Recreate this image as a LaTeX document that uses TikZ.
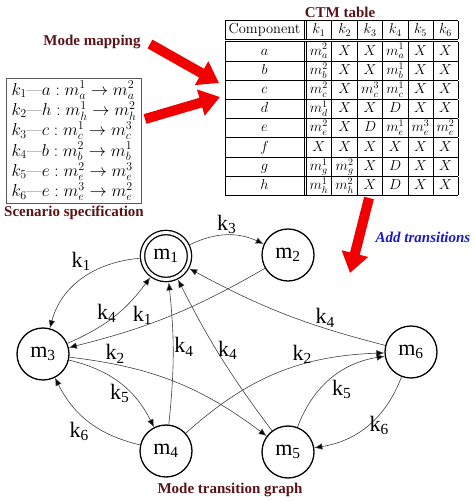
\documentclass[tikz,border=0pt]{standalone}
\usepackage{fontspec}
\usepackage{amsmath}
\usetikzlibrary{arrows,arrows.meta,positioning}
\newfontfamily\tnr{Liberation Serif}
\definecolor{titlered}{RGB}{90,20,25}
\definecolor{addblue}{RGB}{25,25,205}
\definecolor{bigred}{RGB}{240,0,0}
\newcommand{\md}[1]{m\textsubscript{#1}}
\newcommand{\kk}[1]{k\textsubscript{#1}}

\begin{document}
\begin{tikzpicture}[x=1pt,y=1pt,->,>={Latex[length=8pt,width=6.5pt]}]
  \tikzstyle{title}=[font=\tnr\bfseries\fontsize{15}{18}\selectfont,text=titlered]
  \tikzstyle{mode}=[circle,draw,line width=1.3pt,minimum size=52pt,inner sep=0pt,font=\tnr\fontsize{22}{24}\selectfont]
  \tikzstyle{start}=[mode,double,double distance=3pt,minimum size=47pt,outer sep=3pt]
  \tikzstyle{lbl}=[font=\tnr\fontsize{22}{24}\selectfont,inner sep=1pt]
  \tikzstyle{tr}=[draw=black!75,line width=0.6pt]
  \tikzstyle{bigarrow}=[-{Triangle[length=20pt,width=26pt]},line width=10pt,bigred]
  \useasboundingbox (0,0) rectangle (474,502);

  % CTM table
  \node[title] (ctmtitle) at (340,490) {CTM table};
  \node[inner sep=0pt,font=\fontsize{14.5}{18.4}\selectfont] (ctm) at (341.5,394) {%
    \setlength{\tabcolsep}{3.6pt}\setlength{\arrayrulewidth}{0.8pt}%
    \begin{tabular}{|c||c|c|c|c|c|c|}
      \hline
      Component & $k_1$ & $k_2$ & $k_3$ & $k_4$ & $k_5$ & $k_6$ \\
      \hline\hline
      $a$ & $m_a^2$ & $X$ & $X$ & $m_a^1$ & $X$ & $X$ \\ \hline
      $b$ & $m_b^2$ & $X$ & $X$ & $m_b^1$ & $X$ & $X$ \\ \hline
      $c$ & $m_c^2$ & $X$ & $m_c^3$ & $m_c^1$ & $X$ & $X$ \\ \hline
      $d$ & $m_d^1$ & $X$ & $X$ & $D$ & $X$ & $X$ \\ \hline
      $e$ & $m_e^2$ & $X$ & $D$ & $m_e^1$ & $m_e^3$ & $m_e^2$ \\ \hline
      $f$ & $X$ & $X$ & $X$ & $X$ & $X$ & $X$ \\ \hline
      $g$ & $m_g^1$ & $m_g^2$ & $X$ & $D$ & $X$ & $X$ \\ \hline
      $h$ & $m_h^1$ & $m_h^2$ & $X$ & $D$ & $X$ & $X$ \\ \hline
    \end{tabular}};

  % scenario
  \node[title] (maptitle) at (92,460) {Mode mapping};
  \node[draw=black!65,line width=1pt,align=left,inner xsep=5pt,inner ysep=3pt,
        font=\fontsize{16.5}{20.3}\selectfont] (scen) at (74,361) {%
    $k_1$---$a : m_a^1 \rightarrow m_a^2$\\
    $k_2$---$h : m_h^1 \rightarrow m_h^2$\\
    $k_3$---$c : m_c^1 \rightarrow m_c^3$\\
    $k_4$---$b : m_b^2 \rightarrow m_b^1$\\
    $k_5$---$e : m_e^2 \rightarrow m_e^3$\\
    $k_6$---$e : m_e^3 \rightarrow m_e^2$};
  \node[title] (scentitle) at (74,289) {Scenario specification};

  % big red arrows
  \coordinate (mapA) at (150,458);
  \coordinate (mapB) at (219,419);
  \coordinate (scenA) at (145,383);
  \coordinate (scenB) at (220,405);
  \coordinate (ctmA) at (369,304);
  \coordinate (ctmB) at (350,229);
  \draw[bigarrow] (mapA) -- (mapB);
  \draw[bigarrow] (scenA) -- (scenB);
  \draw[bigarrow] (ctmA) -- (ctmB);
  \node[font=\tnr\bfseries\itshape\fontsize{15}{18}\selectfont,text=addblue] (addtr) at (423,265) {Add transitions};

  % mode transition graph
  \node[start] (m1) at (166,246) {\md{1}};
  \node[mode] (m2) at (288,247) {\md{2}};
  \node[mode] (m3) at (43,148) {\md{3}};
  \node[mode] (m4) at (166,51) {\md{4}};
  \node[mode] (m5) at (288,50) {\md{5}};
  \node[mode] (m6) at (411,150) {\md{6}};
  \path[tr] (m1) edge[bend left=25] node[lbl,above] {\kk{3}} (m2)
        (m1) edge[out=185,in=75] node[lbl,above left,pos=0.4] {\kk{1}} (m3)
        (m3) edge[bend right=15] node[lbl,left,pos=0.55] {\kk{4}} (m1)
        (m2) edge[bend left=8] node[lbl,above,pos=0.65] {\kk{1}} (m3)
        (m4) edge[bend right=6] node[lbl,right,pos=0.55] {\kk{4}} (m1)
        (m5) edge[bend left=5] node[lbl,right,pos=0.55] {\kk{4}} (m1)
        (m6) edge[bend left=7] node[lbl,above,pos=0.28] {\kk{4}} (m1)
        (m3) edge[bend left=15] node[lbl,above,pos=0.2] {\kk{2}} (m5)
        (m3) edge[bend left=25] node[lbl,below,pos=0.5] {\kk{5}} (m4)
        (m4) edge[bend left=25] node[lbl,below left,inner sep=0pt,pos=0.5] {\kk{6}} (m3)
        (m4) edge[bend left=20] node[lbl,above,pos=0.63] {\kk{2}} (m6)
        (m5) edge[bend left=30] node[lbl,below right,pos=0.5] {\kk{5}} (m6)
        (m6) edge[bend left=30] node[lbl,right,pos=0.5] {\kk{6}} (m5);
  \node[title] (graphtitle) at (230,12) {Mode transition graph};
\end{tikzpicture}
\end{document}
